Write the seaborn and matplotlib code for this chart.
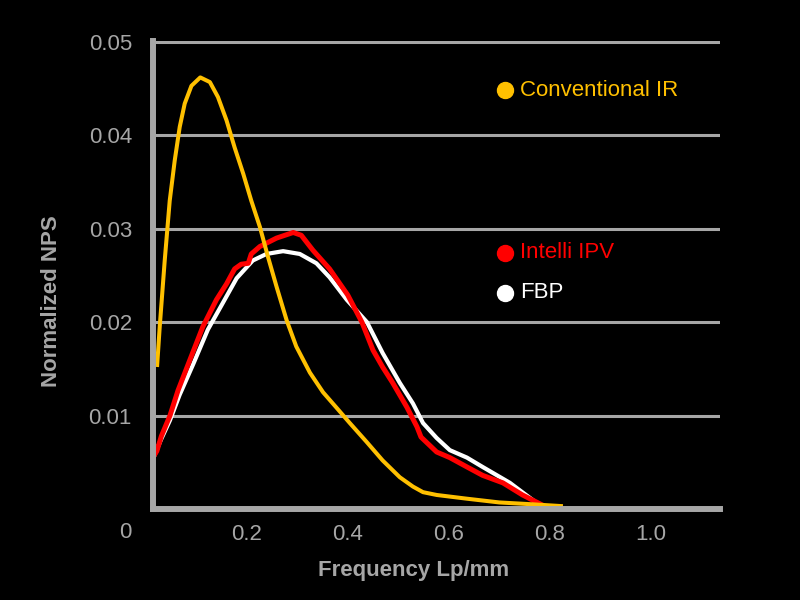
import pandas as pd
import seaborn as sns
import matplotlib.pyplot as plt

# Werte
ir_x = [0.0224, 0.0277, 0.0376, 0.0475, 0.0574, 0.0673, 0.0772, 0.0905, 0.108, 0.127, 0.143,
        0.160, 0.176, 0.193, 0.209, 0.226, 0.242, 0.259, 0.279, 0.298, 0.325, 0.351, 0.38,
        0.404, 0.437, 0.469, 0.503, 0.529, 0.549, 0.576, 0.636, 0.70, 0.766, 0.826]
ir_y = [0.0152, 0.0195, 0.0266, 0.0330, 0.0373, 0.0409, 0.0434, 0.0453, 0.0462, 0.0457, 0.0441,
        0.0416, 0.0387, 0.0359, 0.0330, 0.0302, 0.0270, 0.0238, 0.0202, 0.0174, 0.0146, 0.0125,
        0.0107, 0.0092, 0.0072, 0.0052, 0.0034, 0.0024, 0.0018, 0.0015, 0.0011, 0.0007, 0.0005,
        0.0003]

ipv_x = [0.014, 0.022, 0.031, 0.048, 0.064, 0.087, 0.113, 0.140, 0.160, 0.176, 0.189,
         0.203, 0.209, 0.226, 0.259, 0.292, 0.308, 0.331, 0.364, 0.40, 0.428, 0.45, 0.469,
         0.489, 0.517, 0.537, 0.545, 0.576, 0.602, 0.636, 0.667, 0.707, 0.746, 0.786]
ipv_y = [0.0055, 0.0062, 0.0078, 0.0100, 0.0127, 0.0159, 0.0195, 0.0224, 0.0241, 0.0257,
         0.0262, 0.0263, 0.0273, 0.0281, 0.0290, 0.0296, 0.0293, 0.0277, 0.0257, 0.0229, 0.0200,
         0.0170, 0.0152, 0.0135, 0.0109, 0.0088, 0.0077, 0.0061, 0.0055, 0.0045, 0.0036, 0.0028,
         0.0015, 0.0004]

fbp_x = [0.014, 0.03, 0.048, 0.067, 0.094, 0.123, 0.150, 0.180, 0.212, 0.239, 0.272, 0.305,
         0.338, 0.364, 0.398, 0.438, 0.469, 0.503, 0.529, 0.549, 0.576, 0.602, 0.636, 0.667,
         0.721, 0.78]
fbp_y = [0.0053, 0.0074, 0.0095, 0.0122, 0.0155, 0.0192, 0.0218, 0.0247, 0.0266, 0.0273, 0.0276,
         0.0273, 0.0263, 0.0248, 0.0224, 0.0200, 0.0167, 0.0135, 0.0113, 0.0092, 0.0076, 0.0063,
         0.0055, 0.0045, 0.0028, 0.0004]

x_ticks = [0.2, 0.4, 0.6, 0.8, 1.0]
y_ticks = [0.01, 0.02, 0.03, 0.04, 0.05]

colors = {"FBP": "#FFFFFF", "Intelli IPV": "#FF0000", "Conventional IR": "#FFC000"}
grau = "#A6A6A6"

df = pd.concat([
    pd.DataFrame({"x": fbp_x, "y": fbp_y, "serie": "FBP"}),
    pd.DataFrame({"x": ipv_x, "y": ipv_y, "serie": "Intelli IPV"}),
    pd.DataFrame({"x": ir_x, "y": ir_y, "serie": "Conventional IR"}),
])

sns.set_theme(style="dark")
plt.rcParams["font.family"] = ["Liberation Sans", "DejaVu Sans"]

fig = plt.figure(figsize=(8, 6), dpi=100, facecolor="black")
ax = fig.add_axes([0.191, 0.1517, 0.709, 0.78])
ax.set_facecolor("black")

sns.lineplot(data=df, x="x", y="y", hue="serie", palette=colors, sort=False,
             estimator=None, hue_order=["FBP", "Intelli IPV", "Conventional IR"],
             legend=False, ax=ax)
for line, lw in zip(ax.lines, [3.0, 3.6, 2.9]):
    line.set_linewidth(lw)
    line.set_solid_joinstyle("round")
    line.set_solid_capstyle("butt")

ax.set_xlim(0.014, 1.137)
ax.set_ylim(0, 0.0501)
ax.set_xticks(x_ticks)
ax.set_xticklabels([f"{v:.1f}" for v in x_ticks])
ax.set_yticks(y_ticks)
ax.set_yticklabels([f"{v:.2f}" for v in y_ticks])
ax.tick_params(length=0, labelsize=16, labelcolor=grau)
ax.tick_params(axis="y", pad=15)
ax.tick_params(axis="x", pad=11)

ax.grid(False)
for v in y_ticks:
    ax.axhline(v, color=grau, lw=2.2, zorder=0)

for s in ["top", "right"]:
    ax.spines[s].set_visible(False)
for s in ["left", "bottom"]:
    ax.spines[s].set_color(grau)
    ax.spines[s].set_linewidth(4.3)
    ax.spines[s].set_capstyle("projecting")

ax.set_xlabel("Frequency Lp/mm", color=grau, fontsize=16, fontweight="bold")
ax.set_ylabel("Normalized NPS", color=grau, fontsize=16, fontweight="bold")
ax.xaxis.set_label_coords(0.46, -0.109)
ax.yaxis.set_label_coords(-0.160, 0.444)

ax.text(-0.049, -0.051, "0", transform=ax.transAxes, color=grau, fontsize=16,
        ha="center", va="center")

# Beschriftungen mit Punkten
labels = [("Conventional IR", 0.895), ("Intelli IPV", 0.547), ("FBP", 0.4615)]
for name, yy in labels:
    ax.plot([0.6217], [yy], "o", color=colors[name], markersize=11.5, transform=ax.transAxes,
            clip_on=False)
    ax.text(0.647, yy, name, color=colors[name], fontsize=16, ha="left", va="center",
            transform=ax.transAxes)

fig.savefig("out.png", dpi=100, facecolor="black")
